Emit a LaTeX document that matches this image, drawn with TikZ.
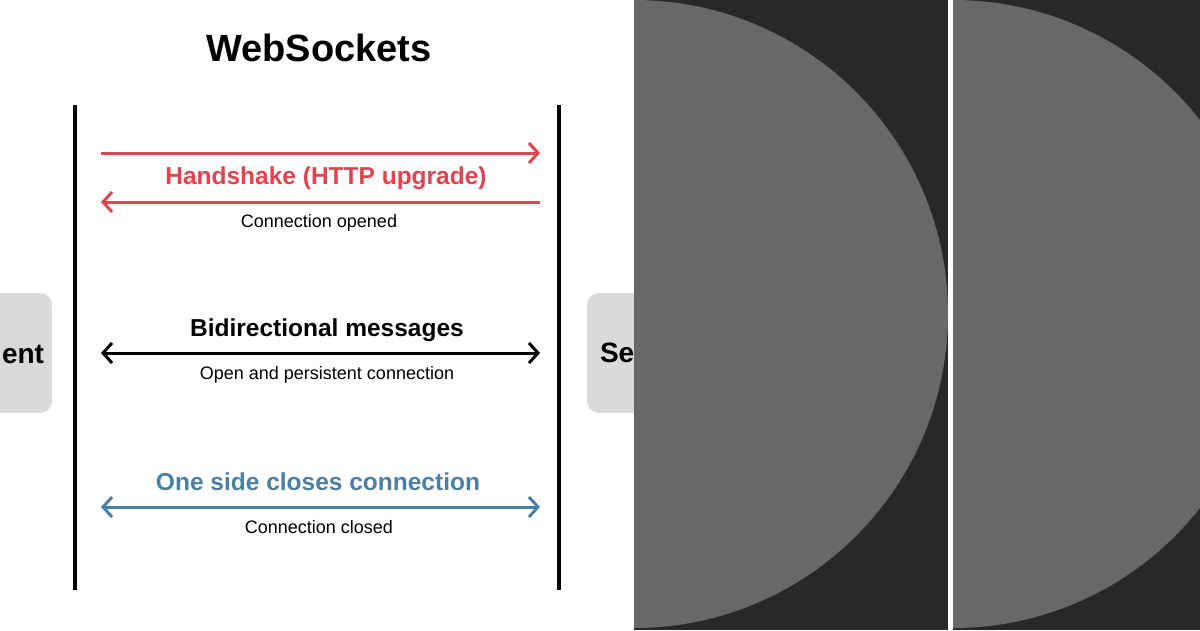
\documentclass[tikz,border=0pt]{standalone}
\usepackage{fontspec}
\setmainfont{Liberation Sans}
\usetikzlibrary{arrows.meta}
\definecolor{hred}{HTML}{DF4450}
\definecolor{hblue}{HTML}{4A7FA6}
\definecolor{boxg}{HTML}{DADADA}
\definecolor{dark}{HTML}{282828}
\definecolor{disc}{HTML}{686868}
\begin{document}
\begin{tikzpicture}[x=1pt,y=-1pt,
  life/.style={line width=3.5pt},
  msg/.style={line width=3pt,arrows={-Straight Barb[length=9pt,width=20pt,line width=3pt]}},
  dmsg/.style={line width=3pt,arrows={Straight Barb[length=9pt,width=20pt,line width=3pt]-Straight Barb[length=9pt,width=20pt,line width=3pt]}},
  big/.style={font=\bfseries\fontsize{24.5}{28}\selectfont},
  small/.style={font=\fontsize{18}{21}\selectfont},
  party/.style={fill=boxg,rounded corners=12pt,font=\bfseries\fontsize{28}{32}\selectfont}]
\useasboundingbox (0,0) rectangle (1200,630);
\begin{scope}
\clip (0,0) rectangle (1200,630);
\fill[white] (0,0) rectangle (1200,630);
\node[font=\bfseries\fontsize{38}{44}\selectfont] (title) at (319,48) {WebSockets};
\node[party,minimum width=126pt,minimum height=120pt,text width=110pt,align=right,inner sep=0pt] (client) at (-11,353) {Client\hspace*{38pt}};
\node[party,minimum width=126pt,minimum height=120pt,text width=110pt,align=left,inner sep=0pt] (server) at (650,353) {\hspace*{5pt}Server};
\coordinate (ct) at (75,105); \coordinate (cb) at (75,590);
\coordinate (st) at (559,105); \coordinate (sb) at (559,590);
\draw[life] (ct) -- (cb);
\draw[life] (st) -- (sb);
\coordinate (a1) at (101,153); \coordinate (b1) at (540,153);
\coordinate (a2) at (101,202); \coordinate (b2) at (540,202);
\coordinate (a3) at (101,353); \coordinate (b3) at (540,353);
\coordinate (a4) at (101,507); \coordinate (b4) at (540,507);
\draw[msg,hred] (a1) -- (b1);
\draw[msg,hred] (b2) -- (a2);
\draw[dmsg,black] (a3) -- (b3);
\draw[dmsg,hblue] (a4) -- (b4);
\node[big,text=hred] (l1) at (326,178) {Handshake (HTTP upgrade)};
\node[small] (s1) at (319,223) {Connection opened};
\node[big] (l2) at (327,330) {Bidirectional messages};
\node[small] (s2) at (327,375) {Open and persistent connection};
\node[big,text=hblue] (l3) at (318,482) {One side closes connection};
\node[small] (s3) at (319,527) {Connection closed};
% right panels
\fill[dark] (634,0) rectangle (1200,630);
\begin{scope}
\clip (634,0) rectangle (948,630);
\fill[disc] (634,314) circle (314);
\end{scope}
\fill[white] (948,0) rectangle (953,630);
\begin{scope}
\clip (953,0) rectangle (1200,630);
\fill[disc] (953,314) circle (314);
\end{scope}
\end{scope}
\end{tikzpicture}
\end{document}
